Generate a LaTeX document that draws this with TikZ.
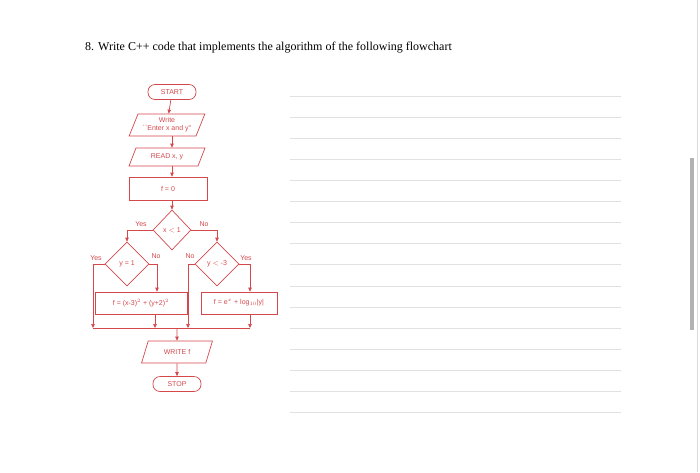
\documentclass[tikz,border=0pt]{standalone}
\usepackage{fontspec}
\setmainfont{Liberation Serif}
\newfontfamily\fcf{Liberation Sans}
\usetikzlibrary{shapes.geometric,arrows.meta}
\definecolor{fr}{RGB}{212,72,76}
\definecolor{ln}{RGB}{225,225,225}
\tikzset{
 base/.style={draw=fr,line width=0.7pt,font=\fcf\fontsize{7}{8}\selectfont,text=fr,inner sep=1pt,align=center},
 term/.style={base,rounded corners=7pt,minimum width=48pt,minimum height=15pt},
 io/.style={base,trapezium,trapezium left angle=65,trapezium right angle=115,trapezium stretches=true},
 proc/.style={base,rectangle},
 dec/.style={base,diamond,minimum width=44pt,minimum height=44pt,inner sep=0pt},
 fl/.style={draw=fr,line width=0.7pt,-{Triangle[length=4pt,width=3.5pt]}},
 ln0/.style={draw=fr,line width=0.7pt},
 lab/.style={font=\fcf\fontsize{7}{8}\selectfont,text=fr},
}
\begin{document}
\begin{tikzpicture}[x=1pt,y=-1pt]
\useasboundingbox (0,0) rectangle (700,472);
\node[anchor=west,font=\fontsize{12}{14}\selectfont,inner sep=0pt] (title) at (85,48) {8. Write C++ code that implements the algorithm of the following flowchart};
\foreach \i in {0,...,15} \draw[ln,line width=0.8pt] (290,96+21.1*\i) -- (621,96+21.1*\i);
\fill[gray!60] (690,158) rectangle (694,330);
\draw[gray!30,line width=0.6pt] (697,0) -- (697,472);

\node[term] (start) at (172,92) {START};
\node[io,minimum width=76pt,minimum height=22pt] (write) at (167,125) {Write\\``Enter x and y''};
\node[io,minimum width=76pt,minimum height=18pt] (read) at (167,157) {READ x, y};
\node[proc,minimum width=78pt,minimum height=23pt] (f0) at (168,188.5) {f = 0};
\node[dec,minimum width=38pt,minimum height=40pt] (d1) at (172,230) {x $<$ 1};
\node[dec] (d2) at (127,264) {y = 1};
\node[dec] (d3) at (217,264) {y $<$ -3};
\node[proc,minimum width=92pt,minimum height=22pt] (r1) at (141,303) {f = (x-3)$^2$ + (y+2)$^2$};
\node[proc,minimum width=76pt,minimum height=22pt] (r2) at (239,303) {f = e$^x$ + log$_{10}$|y|};
\node[io,minimum width=71pt,minimum height=22pt] (wf) at (177,352) {WRITE f};
\node[term] (stop) at (177,384) {STOP};

\draw[fl] (start) -- (write);
\draw[fl] (write.south -| start) -- (read.north -| start);
\draw[fl] (read.south -| start) -- (f0.north -| start);
\draw[fl] (f0.south -| start) -- (d1);
\draw[fl] (d1.west) -- (127,230) -- (d2.north);
\draw[fl] (d1.east) -- (217,230) -- (d3.north);
\node[lab,anchor=south] at (141,230) {Yes};
\node[lab,anchor=south] at (204,230) {No};

\coordinate (m1) at (93,328);
\coordinate (m2) at (155,328);
\coordinate (m3) at (188,328);
\coordinate (m4) at (250,328);
\coordinate (mc) at (177,328);
\draw[fl] (d2.west) -- (93,264) -- (m1);
\node[lab,anchor=south] at (96,264) {Yes};
\draw[fl] (d2.east) -- (157,264) -- (r1.north -| 157,0);
\node[lab,anchor=south west] at (148,262) {No};
\draw[fl] (d3.west) -- (188,264) -- (m3);
\node[lab,anchor=south east] at (198,262) {No};
\draw[fl] (d3.east) -- (250,264) -- (r2.north -| 250,0);
\node[lab,anchor=south] at (246,264) {Yes};
\draw[fl] (r1.south -| m2) -- (m2);
\draw[fl] (r2.south -| m4) -- (m4);
\draw[ln0] (m1) -- (m4);
\draw[fl] (mc) -- (wf.north);
\draw[fl] (wf) -- (stop);
\end{tikzpicture}
\end{document}
